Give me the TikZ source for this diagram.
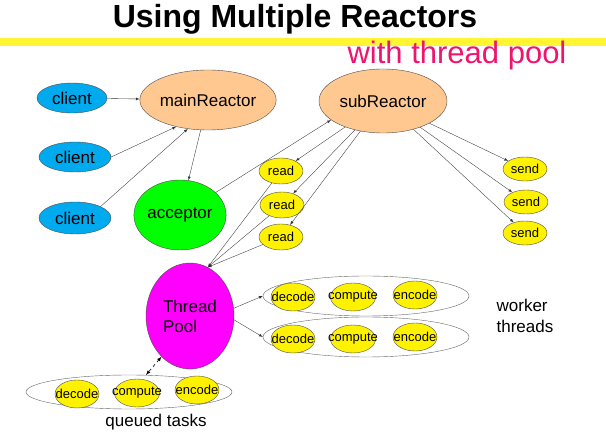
\documentclass[tikz,border=0pt]{standalone}
\usepackage{fontspec}
\setmainfont{Liberation Sans}
\usetikzlibrary{shapes.geometric}
\definecolor{cl}{HTML}{00AAEE}
\definecolor{rc}{HTML}{FFC890}
\definecolor{pk}{HTML}{F0146E}
\definecolor{mg}{HTML}{FF00FF}
\begin{document}
\begin{tikzpicture}[x=1pt,y=-1pt,
  el/.style={ellipse,draw=black!70,line width=0.4pt,inner sep=0pt,font=\fontsize{17}{20}\selectfont},
  sm/.style={el,fill=yellow,font=\fontsize{13}{14}\selectfont,inner xsep=-9pt,inner ysep=0pt,minimum width=44,minimum height=26},
  arr/.style={->,>=latex,line width=0.35pt,black!80},
  band/.style={ellipse,draw=black!60,minimum width=206,minimum height=40,inner sep=0pt}]
\useasboundingbox (0,0) rectangle (606,443);
\fill[yellow!80!white] (0,38) rectangle (606,46);
\node (title) at (295,19) {\fontsize{32}{34}\selectfont\bfseries Using Multiple Reactors};
\node[text=pk] (sub) at (457,55) {\fontsize{31}{32}\selectfont with thread pool};
\node[el,fill=cl,minimum width=70,minimum height=30] (c1) at (72,98) {client};
\node[el,fill=cl,minimum width=72,minimum height=30] (c2) at (75,157) {client};
\node[el,fill=cl,minimum width=72,minimum height=32] (c3) at (75,218) {client};
\node[el,fill=rc,minimum width=128,minimum height=60] (mr) at (208,100) {mainReactor};
\node[el,fill=rc,minimum width=128,minimum height=64] (sr) at (383,101) {subReactor};
\node[el,fill=green,minimum width=90,minimum height=70] (acc) at (180,215) {acceptor};
\node[sm] (r1) at (281,171) {read};
\node[sm] (r2) at (282,205) {read};
\node[sm] (r3) at (281,237) {read};
\node[sm,minimum height=24] (s1) at (525,169) {send};
\node[sm,minimum height=24] (s2) at (526,202) {send};
\node[sm,minimum height=24] (s3) at (525,233) {send};
\node[el,fill=mg,minimum width=88,minimum height=106,align=left] (tp) at (190,316) {Thread\\Pool};
\node[band] (b1) at (366,296) {};
\node[band] (b2) at (366,337) {};
\node[band,minimum height=34] (bq) at (129,392) {};
\node[sm,minimum height=28] (da) at (293,297) {decode};
\node[sm,minimum height=28] (ca) at (353,297) {compute};
\node[sm,minimum height=28] (ea) at (415,295) {encode};
\node[sm,minimum height=28] (db) at (293,339) {decode};
\node[sm,minimum height=28] (cb) at (353,339) {compute};
\node[sm,minimum height=28] (eb) at (415,337) {encode};
\node[sm,minimum height=28] (dq) at (77,394) {decode};
\node[sm,minimum height=28] (cq) at (137,393) {compute};
\node[sm,minimum height=28] (eq) at (197,390) {encode};
\node[align=left,font=\fontsize{17}{21}\selectfont] (wt) at (525,316) {worker\\threads};
\node[font=\fontsize{17}{20}\selectfont] (qt) at (156,422) {queued tasks};
\draw[arr] (c1) -- (mr);
\draw[arr] (c2.east) -- (mr.220);
\draw[arr] (c3.north east) -- (mr.235);
\draw[arr] (mr) -- (acc);
\draw[arr] (acc) -- (sr.200);
\foreach \r in {r1,r2,r3} \draw[arr] (sr) -- (\r);
\foreach \s in {s1,s2,s3} \draw[arr] (sr) -- (\s);
\foreach \r in {r1,r2,r3} \draw[arr] (\r) -- (tp.70);
\draw[arr] (tp.10) -- (b1.west);
\draw[arr] (tp.-5) -- (b2.west);
\draw[<->,>=latex,dashed,line width=0.6pt] (tp.235) -- (bq.45);
\end{tikzpicture}
\end{document}
